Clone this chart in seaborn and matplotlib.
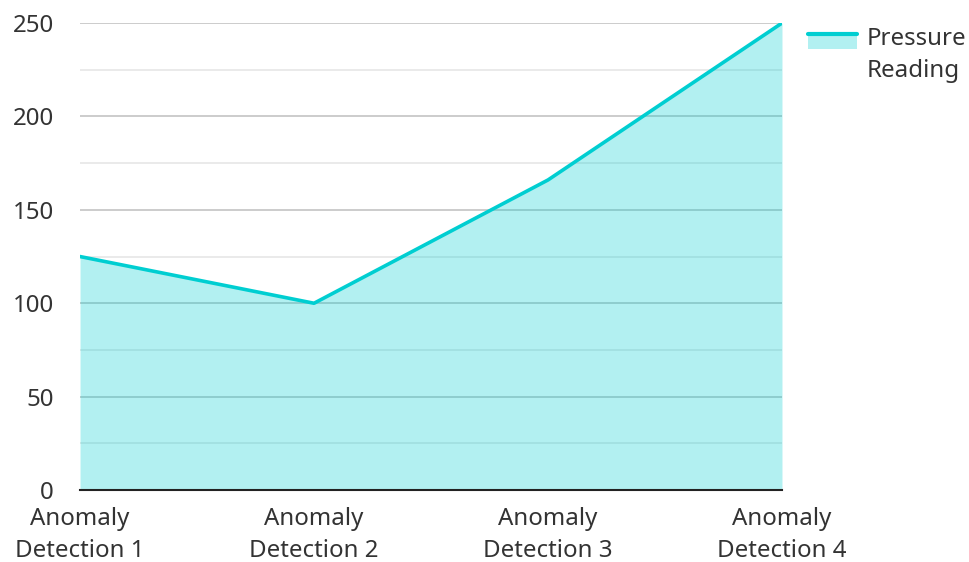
import pandas as pd
import numpy as np
import matplotlib.pyplot as plt
import seaborn as sns
from matplotlib.legend_handler import HandlerBase
from matplotlib.patches import Rectangle
from matplotlib.lines import Line2D

sns.set_style("white")
plt.rcParams['font.family'] = ['Noto Sans', 'DejaVu Sans']

categories = ["Anomaly\nDetection 1", "Anomaly\nDetection 2", "Anomaly\nDetection 3", "Anomaly\nDetection 4"]
pressure = [125, 100, 166, 250]
series_name = "Pressure\nReading"

LINE_COLOR = "#00CED1"
FILL_ALPHA = 0.3
FS = 17.3


class AreaHandler(HandlerBase):
    # filled box with the line on its top edge, lifted to the first text line
    def create_artists(self, legend, orig, xdescent, ydescent, width, height, fontsize, trans):
        y0 = -ydescent + 0.6 * fontsize
        r = Rectangle((-xdescent, y0), width, height, fc=LINE_COLOR, alpha=FILL_ALPHA,
                      ec='none', transform=trans)
        l = Line2D([-xdescent, -xdescent + width], [y0 + height] * 2, color=LINE_COLOR,
                   lw=3, transform=trans)
        return [r, l]


df = pd.DataFrame({"x": np.arange(len(categories)), "value": pressure})

fig = plt.figure(figsize=(9.69, 5.62), dpi=100)
ax = fig.add_axes([0.0826, 0.128, 0.7244, 0.831])

ax.fill_between(df["x"], df["value"], 0, color=LINE_COLOR, alpha=FILL_ALPHA, lw=0, zorder=2)
sns.lineplot(data=df, x="x", y="value", color=LINE_COLOR, lw=2.6, ax=ax, zorder=3)

ax.set_xlim(0, 3)
ax.set_ylim(0, 250)
ax.set_xticks(df["x"])
ax.set_xticklabels(categories, fontsize=FS, color="#333333", linespacing=1.45)
ax.set_yticks(np.arange(0, 251, 50))
ax.set_yticks(np.arange(25, 250, 50), minor=True)
ax.tick_params(axis='y', labelsize=FS, colors="#333333", length=0, pad=19)
ax.tick_params(axis='x', length=0, pad=12)
ax.grid(axis='y', which='major', color="#c4c4c4", lw=1.2, zorder=0)
ax.grid(axis='y', which='minor', color="#e6e6e6", lw=1.2, zorder=0)
ax.set_axisbelow(True)
ax.set_xlabel("")
ax.set_ylabel("")
for s in ["top", "right", "left"]:
    ax.spines[s].set_visible(False)
ax.spines["bottom"].set_color("#222222")
ax.spines["bottom"].set_linewidth(1.5)
ax.spines["bottom"].set_zorder(4)

leg = ax.legend([object()], [series_name], handler_map={object: AreaHandler()},
                loc="upper left", bbox_to_anchor=(1.037, 0.991), frameon=False, fontsize=FS,
                borderpad=0, borderaxespad=0, handlelength=2.03, handleheight=0.58,
                handletextpad=0.42, labelcolor="#333333")
for t in leg.get_texts():
    t.set_linespacing(1.45)

plt.savefig("out.png", dpi=100)
